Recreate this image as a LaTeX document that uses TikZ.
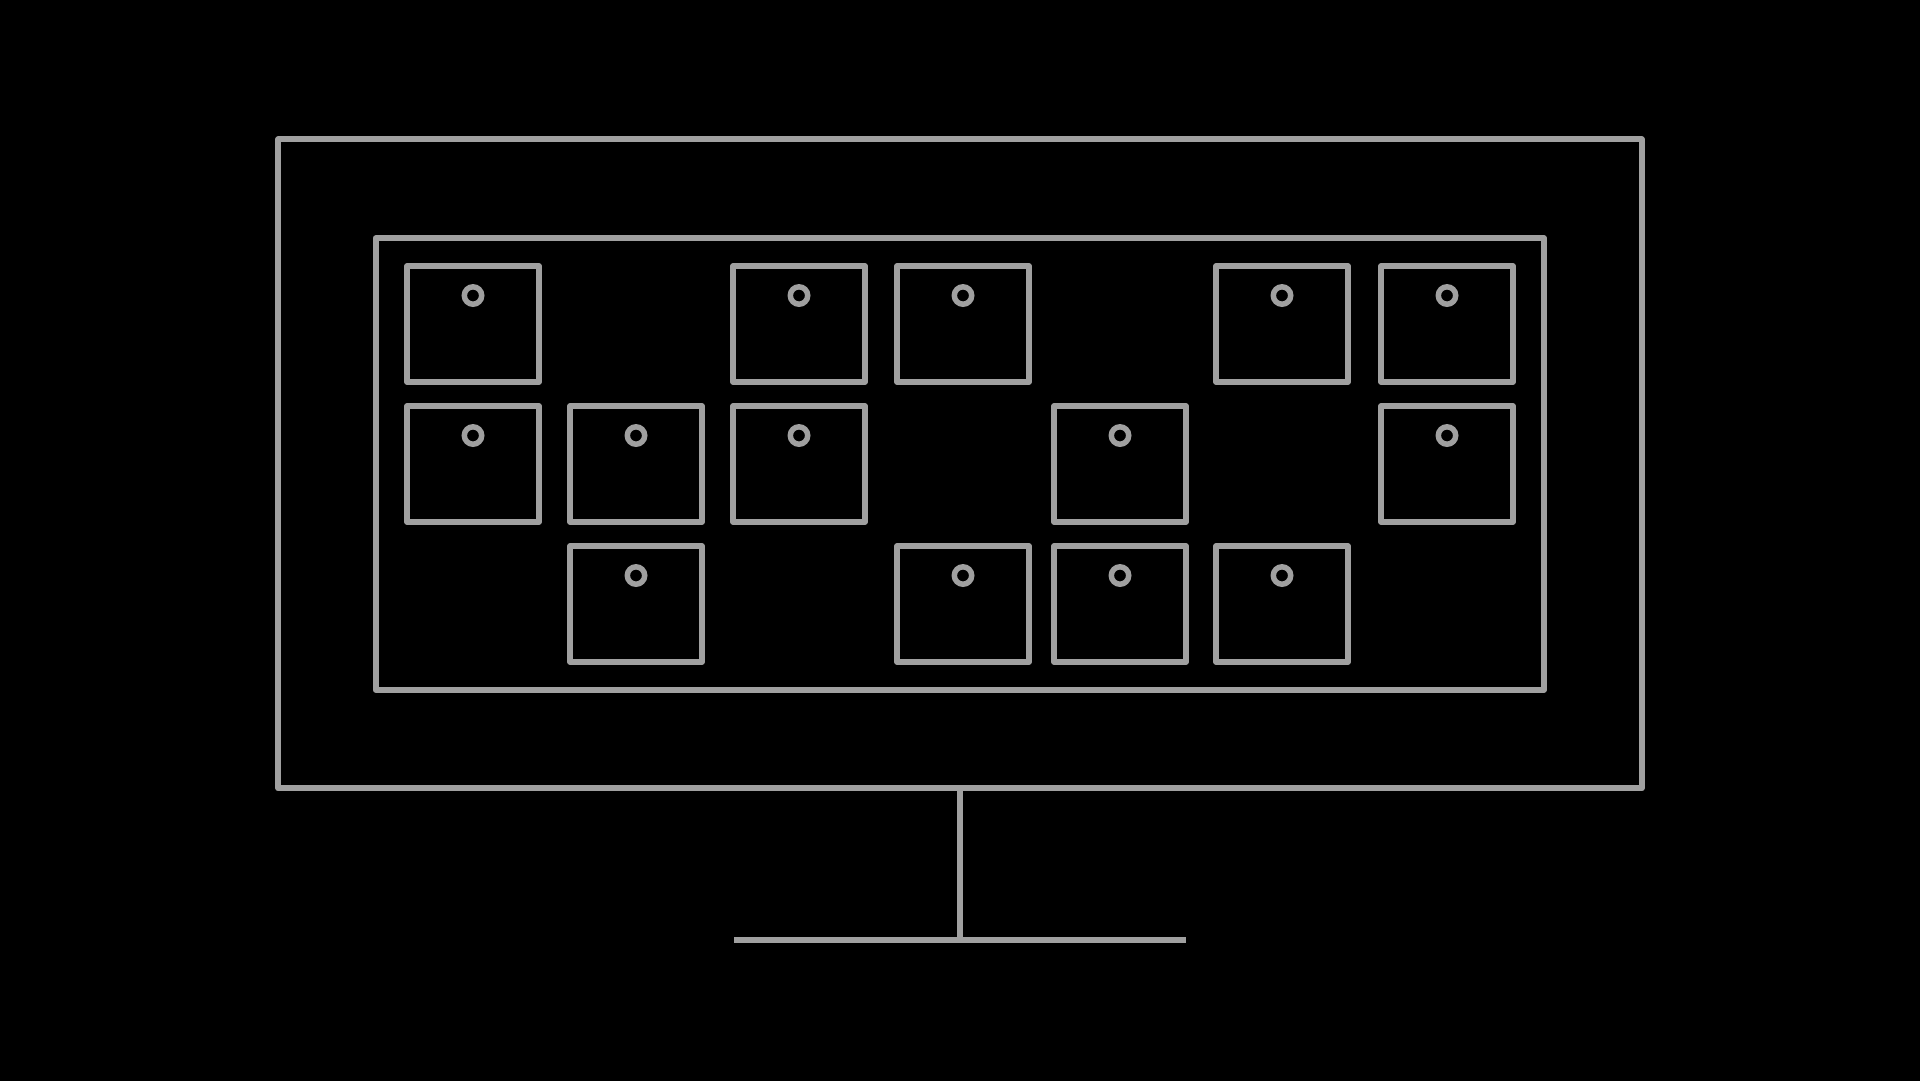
\documentclass[tikz,border=0pt]{standalone}
\definecolor{linegray}{RGB}{160,160,160}
\begin{document}
\begin{tikzpicture}[x=1pt,y=-1pt,
  outline/.style={draw=linegray,line width=5.8pt,line join=round},
  dotring/.style={draw=linegray,line width=5.5pt}]
\useasboundingbox (0,0) rectangle (1920,1080);
\fill[black] (-10,-10) rectangle (1930,1090);
% monitor frame
\draw[outline] (278.3,139.3) rectangle (1641.7,788.3);
% screen
\draw[outline] (375.7,238.3) rectangle (1544,690);
% stand
\draw[outline] (960,788.3) -- (960,940);
\draw[outline] (734.3,940) -- (1185.7,940);
% tiles: column left x / row top y
\foreach \cx/\ry in {407/266, 733/266, 897/266, 1216/266, 1381/266,
                     407/406, 570/406, 733/406, 1054/406, 1381/406,
                     570/546, 897/546, 1054/546, 1216/546}{
  \draw[outline] (\cx,\ry) rectangle ++(132,116);
  \draw[dotring] (\cx+66,\ry+29.5) circle[radius=8.7];
}
\end{tikzpicture}
\end{document}
